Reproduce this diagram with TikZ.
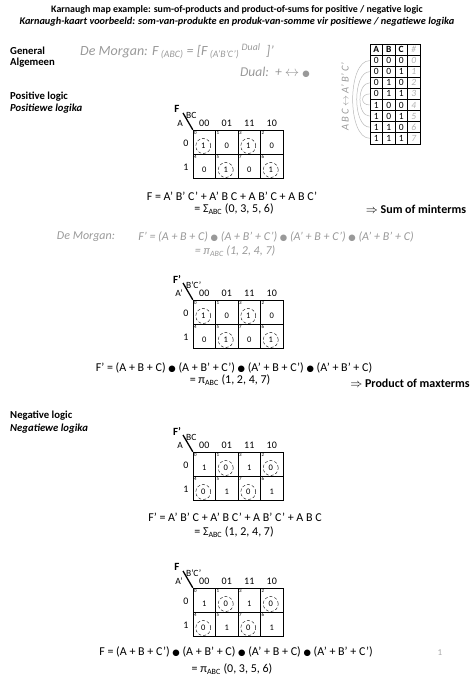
\documentclass[tikz,border=0pt]{standalone}
\usepackage{fontspec}
\setmainfont{Carlito}
\newfontfamily\symfont{DejaVu Sans}
\usetikzlibrary{positioning,calc}
\tikzset{
    dm color/.style={gray!80},
    plain text/.style={inner sep=0pt, font=\fontsize{12}{14}\selectfont},
    heading/.style={inner sep=0pt, anchor=west, font=\fontsize{10.7}{12}\selectfont\bfseries},
    dm text/.style={plain text, dm color, font=\fontsize{12}{14}\selectfont\itshape},
    conclusion/.style={inner sep=0pt, font=\fontsize{12}{14}\selectfont\bfseries},
    kcell/.style={draw, thin, minimum width=22.5pt, minimum height=24pt, inner sep=0pt},
    kidx/.style={anchor=north west, inner sep=1pt, font=\fontsize{5}{5}\selectfont},
    kval/.style={inner sep=0pt, font=\fontsize{8.5}{9}\selectfont},
    kring/.style={circle, draw, densely dashed, minimum size=15pt},
    khead/.style={inner sep=0pt, font=\fontsize{10}{11}\selectfont},
    kfunc/.style={inner sep=0pt, font=\fontsize{11}{12}\selectfont\bfseries},
    kvar/.style={inner sep=0pt, font=\fontsize{9.5}{10}\selectfont},
    kdiag/.style={line width=1.3pt},
    ttcell/.style={draw, semithick, minimum width=12.5pt, minimum height=11.1pt, inner sep=0pt, font=\fontsize{9.5}{10}\selectfont},
    ttnum/.style={ttcell, font=\fontsize{9.5}{10}\selectfont\itshape, text=gray!60},
    ttarc/.style={gray!55, line width=0.5pt},
}
\newcommand{\andop}{{\symfont\fontsize{8.5}{9}\selectfont ●}}
% #1 name, #2 grid origin, #3 function, #4 column vars, #5 row vars,
% #6 parity of the ringed cells, #7 ringed digit
\newcommand{\karnaugh}[7]{%
  \begin{scope}[shift={#2}]
    \coordinate (#1-corner) at (-10,-17);
    \foreach \col/\g/\bc in {0/00/0,1/01/1,2/11/3,3/10/2} {
      \foreach \row in {0,1} {
        \pgfmathtruncatemacro{\cellno}{4*\row+\bc}
        \pgfmathtruncatemacro{\kpar}{mod(\col+\row,2)}
        \node[kcell] (#1-\row\col) at (\col*22.5+11.25, \row*24+12) {};
        \node[kidx] (#1-i\row\col) at (#1-\row\col.north west) {\cellno};
        \ifnum\kpar=#6
          \node[kval, kring] (#1-v\row\col) at ($(#1-\row\col.center)+(-1,4)$) {#7};
        \else
          \pgfmathtruncatemacro{\kother}{1-#7}
          \node[kval] (#1-v\row\col) at ($(#1-\row\col.center)+(0,4)$) {\kother};
        \fi
      }
      \node[khead] (#1-h\col) at (\col*22.5+11.25,-7) {\g};
    }
    \foreach \row in {0,1}
      \node[khead] (#1-r\row) at (-7,\row*24+13) {\row};
    \node[kfunc] (#1-f) at ($(#1-corner)+(-6,-4)$) {#3};
    \node[kvar, anchor=west] (#1-cv) at ($(#1-corner)+(3,2)$) {#4};
    \node[kvar, anchor=east] (#1-rv) at ($(#1-corner)+(0,10)$) {#5};
    \draw[kdiag] (#1-corner) -- (#1-00.north west);
  \end{scope}}

\begin{document}
\begin{tikzpicture}[x=1pt, y=-1pt]
    \useasboundingbox (0,0) rectangle (474,684);

    % titles
    \node[inner sep=0pt, font=\fontsize{9.9}{11}\selectfont\bfseries] (title) at (237,10)
        {Karnaugh map example: sum-of-products and product-of-sums for positive / negative logic};
    \node[inner sep=0pt, font=\fontsize{10.3}{11}\selectfont\bfseries\itshape] (titel) at (237,22)
        {Karnaugh-kaart voorbeeld: som-van-produkte en produk-van-somme vir positiewe / negatiewe logika};

    % general
    \node[heading] (general) at (10,51) {General};
    \node[heading] (algemeen) at (10,63) {Algemeen};
    \node[dm color, anchor=west, inner sep=0pt, font=\fontsize{14}{16}\selectfont\itshape] (dm-general) at (80,51)
        {De Morgan: F\,\textsubscript{(ABC)} = [F\,\textsubscript{(A’B’C’)}\,\textsuperscript{Dual}\, ]’};
    \node[dm color, inner sep=0pt, font=\fontsize{13.5}{15}\selectfont\itshape] (dual-ops) at (275,72)
        {Dual:\ \ + $\leftrightarrow$ \andop};
    \node[dm color, rotate=90, inner sep=0pt, font=\fontsize{10.5}{12}\selectfont\itshape] (dual-vars) at (345,97)
        {A B C $\leftrightarrow$ A’ B’ C’};

    % truth table
    \foreach \h/\x in {A/376.25,B/388.75,C/401.25}
        \node[ttcell, font=\fontsize{9.5}{10}\selectfont\bfseries] (tt-h\h) at (\x,49.5) {\h};
    \node[ttnum] (tt-hn) at (413.75,49.5) {\#};
    \foreach \n in {0,...,7} {
        \pgfmathtruncatemacro{\bitA}{int(\n/4)}
        \pgfmathtruncatemacro{\bitB}{mod(int(\n/2),2)}
        \pgfmathtruncatemacro{\bitC}{mod(\n,2)}
        \pgfmathsetmacro{\ry}{60.6+11.1*\n}
        \node[ttcell] (tt-\n-a) at (376.25,\ry) {\bitA};
        \node[ttcell] (tt-\n-b) at (388.75,\ry) {\bitB};
        \node[ttcell] (tt-\n-c) at (401.25,\ry) {\bitC};
        \node[ttnum] (tt-\n-n) at (413.75,\ry) {\n};
    }
    \foreach \i/\j/\l in {0/7/0.75,1/6/0.8,2/5/1.0,3/4/2.2}
        \draw[ttarc] (tt-\i-a.west) to[out=180,in=180,looseness=\l] (tt-\j-a.west);

    % positive logic
    \node[heading] (positive) at (10,97) {Positive logic};
    \node[heading, font=\fontsize{10.7}{12}\selectfont\bfseries\itshape] (positiewe) at (10,109) {Positiewe logika};

    \karnaugh{mp}{(193,130)}{F}{BC}{A}{0}{1}
    \node[plain text] (eq-sop) at (232,196) {F = A’ B’ C’ + A’ B C + A B’ C + A B C’};
    \node[plain text] (eq-sop-idx) at (234,209) {= Σ\textsubscript{ABC} (0, 3, 5, 6)};
    \node[conclusion] (minterms) at (416,209) {$\Rightarrow$ Sum of minterms};

    \node[dm text] (dm-label) at (86,237) {De Morgan:};
    \node[dm text] (dm-eq) at (276,237)
        {F’ = (A + B + C) \andop{} (A + B’ + C’) \andop{} (A’ + B + C’) \andop{} (A’ + B’ + C)};
    \node[dm text] (dm-eq-idx) at (235,251) {= π\textsubscript{ABC} (1, 2, 4, 7)};

    \karnaugh{mq}{(193,300)}{F’}{B’C’}{A’}{0}{1}
    \node[plain text] (eq-pos) at (234,368)
        {F’ = (A + B + C) \andop{} (A + B’ + C’) \andop{} (A’ + B + C’) \andop{} (A’ + B’ + C)};
    \node[plain text] (eq-pos-idx) at (230,380) {= π\textsubscript{ABC} (1, 2, 4, 7)};
    \node[conclusion] (maxterms) at (410,383) {$\Rightarrow$ Product of maxterms};

    % negative logic
    \node[heading] (negative) at (10,416) {Negative logic};
    \node[heading, font=\fontsize{10.7}{12}\selectfont\bfseries\itshape] (negatiewe) at (10,429) {Negatiewe logika};

    \karnaugh{nq}{(193,452)}{F’}{BC}{A}{1}{0}
    \node[plain text] (eq-nsop) at (235,517) {F’ = A’ B’ C + A’ B C’ + A B’ C’ + A B C};
    \node[plain text] (eq-nsop-idx) at (234,532) {= Σ\textsubscript{ABC} (1, 2, 4, 7)};

    \karnaugh{np}{(193,588)}{F}{B’C’}{A’}{1}{0}
    \node[plain text] (eq-npos) at (236,652)
        {F = (A + B + C’) \andop{} (A + B’ + C) \andop{} (A’ + B + C) \andop{} (A’ + B’ + C’)};
    \node[plain text] (eq-npos-idx) at (232,669) {= π\textsubscript{ABC} (0, 3, 5, 6)};

    \node[plain text, gray!70, font=\fontsize{9}{10}\selectfont] (page) at (440,653) {1};
\end{tikzpicture}
\end{document}
